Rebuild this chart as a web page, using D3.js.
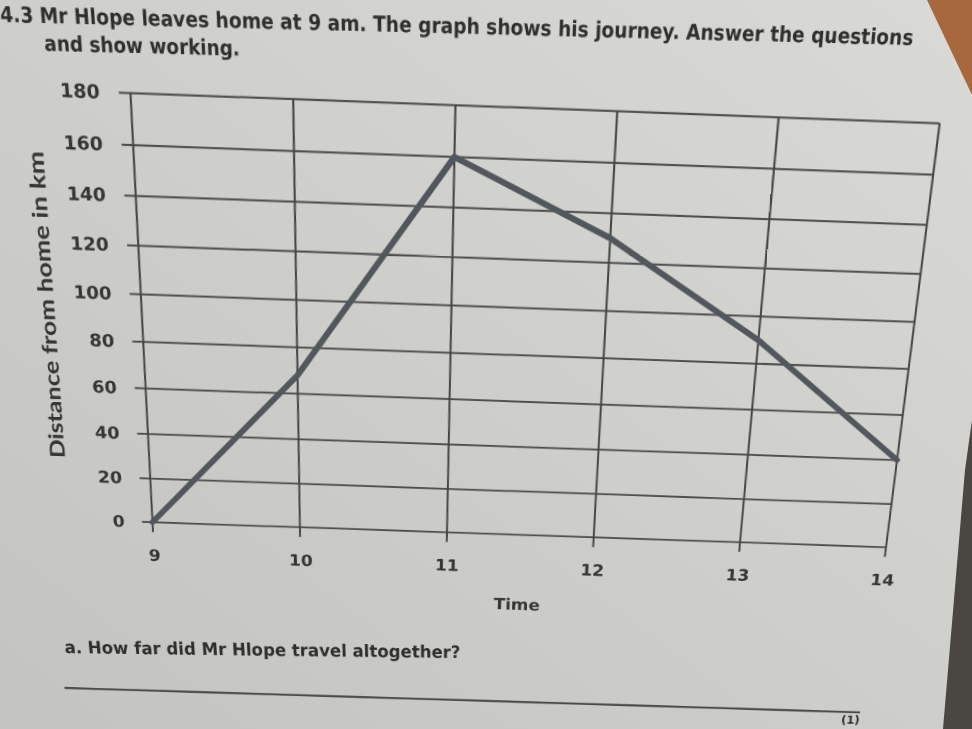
<!DOCTYPE html>
<html>
<head>
<meta charset="utf-8">
<script src="https://cdn.jsdelivr.net/npm/d3@7"></script>
<style>
  html, body { margin: 0; padding: 0; width: 972px; height: 729px; overflow: hidden; }
  svg { display: block; position: absolute; left: 0; top: 0; }
  /* the sheet was photographed leaning back a bit */
  #sheet { transform-origin: 528px 332px; transform: perspective(1000px) rotateX(-13deg); }
</style>
</head>
<body>
<div id="chart"></div>
<script>
// journey of Mr Hlope
const times = [9, 10, 11, 12, 13, 14]
const distances = [0, 68, 160, 130, 90, 40]
const yTicks = [0, 20, 40, 60, 80, 100, 120, 140, 160, 180]

const width = 972
const height = 729
const ink = '#353535'
const textFont = '"Liberation Sans Narrow", "DejaVu Sans Condensed", sans-serif'
const numFont = '"DejaVu Sans", sans-serif'

// paper + bits of table showing round the edge
const bg = d3.select('#chart')
  .append('svg')
  .attr('width', width)
  .attr('height', height)
const grad = bg.append('defs').append('linearGradient')
  .attr('id', 'paper')
  .attr('x1', 0).attr('y1', 1).attr('x2', 1).attr('y2', 0)
grad.append('stop').attr('offset', 0).attr('stop-color', '#c3c3bf')
grad.append('stop').attr('offset', 1).attr('stop-color', '#d9dad6')
bg.append('rect').attr('width', width).attr('height', height).attr('fill', 'url(#paper)')
bg.append('path').attr('d', 'M927,0 L972,0 L972,95 Z').attr('fill', '#a6683c')
bg.append('path').attr('d', 'M972,420 L965,470 L943,729 L972,729 Z').attr('fill', '#4a4641')

const svg = d3.select('#chart')
  .append('svg')
  .attr('id', 'sheet')
  .attr('width', width)
  .attr('height', 800)

// heading
const head = svg.append('g')
  .attr('transform', 'rotate(1.4 36 35)')
  .attr('font-family', textFont)
  .attr('font-weight', 'bold')
  .attr('font-size', 19.5)
  .attr('fill', '#2e2e2e')
head.append('text').attr('x', 36).attr('y', 35)
  .attr('textLength', 853).attr('lengthAdjust', 'spacingAndGlyphs')
  .text('4.3 Mr Hlope leaves home at 9 am. The graph shows his journey. Answer the questions')
head.append('text').attr('x', 75).attr('y', 60)
  .attr('textLength', 183).attr('lengthAdjust', 'spacingAndGlyphs')
  .text('and show working.')

// grid is a little turned on the page as well
const g = svg.append('g').attr('transform', 'rotate(2.1 528 332)')

const x = d3.scaleLinear().domain([9, 14]).range([143, 913])
const y = d3.scaleLinear().domain([0, 180]).range([550.5, 113.5])

g.append('g')
  .selectAll('line')
  .data(yTicks)
  .join('line')
  .attr('x1', x(9) - 11)
  .attr('x2', x(14))
  .attr('y1', d => y(d))
  .attr('y2', d => y(d))
  .attr('stroke', '#4e4e4e')
  .attr('stroke-width', 2)

g.append('g')
  .selectAll('line')
  .data(times)
  .join('line')
  .attr('x1', d => x(d))
  .attr('x2', d => x(d))
  .attr('y1', y(180))
  .attr('y2', y(0) + 11)
  .attr('stroke', '#444')
  .attr('stroke-width', 2)

const yAxis = g.append('g')
  .attr('transform', `translate(${x(9)},0)`)
  .call(d3.axisLeft(y).tickValues(yTicks).tickSize(0).tickPadding(29))
yAxis.select('.domain').remove()
yAxis.attr('font-family', numFont).attr('font-size', 18)
yAxis.selectAll('text').attr('font-weight', 'bold').attr('fill', ink)

const xAxis = g.append('g')
  .attr('transform', `translate(0,${y(0)})`)
  .call(d3.axisBottom(x).tickValues(times).tickFormat(d3.format('d')).tickSize(0).tickPadding(31))
xAxis.select('.domain').remove()
xAxis.attr('font-family', numFont).attr('font-size', 18)
xAxis.selectAll('text').attr('font-weight', 'bold').attr('fill', ink)

g.append('text')
  .attr('transform', 'translate(49,327) rotate(-90)')
  .attr('text-anchor', 'middle')
  .attr('dy', '0.35em')
  .attr('font-family', 'Lato, "Open Sans", sans-serif')
  .attr('font-weight', 'bold')
  .attr('font-size', 21)
  .attr('fill', ink)
  .attr('textLength', 312).attr('lengthAdjust', 'spacingAndGlyphs')
  .text('Distance from home in km')

g.append('text')
  .attr('x', 527)
  .attr('y', 637)
  .attr('text-anchor', 'middle')
  .attr('font-family', numFont)
  .attr('font-weight', 'bold')
  .attr('font-size', 18)
  .attr('fill', ink)
  .text('Time')

const line = d3.line()
  .x((d, i) => x(times[i]))
  .y(d => y(d))

g.append('path')
  .attr('d', line(distances))
  .attr('fill', 'none')
  .attr('stroke', '#51575c')
  .attr('stroke-width', 6)
  .attr('stroke-linejoin', 'round')
  .attr('stroke-linecap', 'round')

// question underneath
const q = svg.append('g')
  .attr('font-family', textFont)
  .attr('font-weight', 'bold')
  .attr('fill', '#2e2e2e')
q.append('text')
  .attr('x', 28).attr('y', 688)
  .attr('transform', 'rotate(0.8 28 688)')
  .attr('font-size', 20.5)
  .attr('textLength', 427).attr('lengthAdjust', 'spacingAndGlyphs')
  .text('a. How far did Mr Hlope travel altogether?')
q.append('text')
  .attr('x', 872).attr('y', 774)
  .attr('font-size', 14)
  .text('(1)')

svg.append('line')
  .attr('x1', 23).attr('y1', 730)
  .attr('x2', 892).attr('y2', 760)
  .attr('stroke', '#4a4a4a')
  .attr('stroke-width', 2.5)
</script>
</body>
</html>
